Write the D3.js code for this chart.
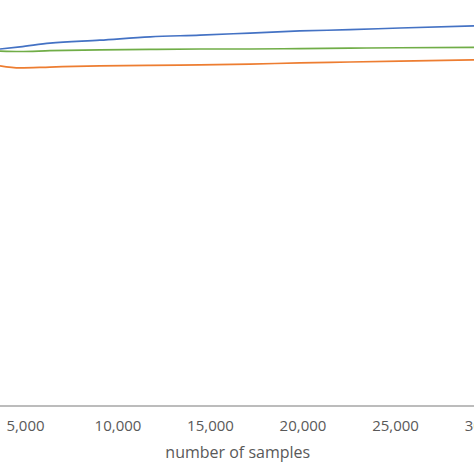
<!DOCTYPE html><html><head><script src="https://cdn.jsdelivr.net/npm/d3@7"></script>
<style>body{margin:0;background:#fff}</style></head><body><svg id="c" width="474" height="474"></svg><script>
const samples=[3650,4730,6350,9050,11760,14460,17160,19860,22570,25270,29270];
const blue=[0.850,0.855,0.864,0.871,0.879,0.883,0.888,0.893,0.896,0.900,0.905];
const green=[0.845,0.844,0.846,0.848,0.849,0.850,0.850,0.851,0.852,0.853,0.854];
const orange=[0.810,0.805,0.807,0.810,0.811,0.812,0.814,0.817,0.819,0.821,0.824];
const ticks=[5000,10000,15000,20000,25000,30000];
const svg=d3.select("#c");
const x=d3.scaleLinear().domain([3650,29270]).range([0,474]);
const y=d3.scaleLinear().domain([0,1]).range([406,-14]);
const line=d3.line().x((d,i)=>x(samples[i])).y(d=>y(d)).curve(d3.curveMonotoneX);
[[blue,"#4472c4"],[green,"#70ad47"],[orange,"#ed7d31"]].forEach(([s,c])=>svg.append("path").datum(s).attr("d",line).attr("fill","none").attr("stroke",c).attr("stroke-width",1.7));
const ax=svg.append("g").attr("transform","translate(0,406)").call(d3.axisBottom(x).tickValues(ticks).tickSize(0).tickPadding(14).tickFormat(d3.format(",")));
ax.select(".domain").attr("stroke","#a6a6a6").attr("stroke-width",1.5).attr("d","M0,0H474");
ax.selectAll("text").attr("font-family","Open Sans").attr("font-size",15).attr("fill","#595959");
svg.append("text").attr("x",x(16500)).attr("y",458).attr("text-anchor","middle").attr("font-family","Open Sans").attr("font-size",16).attr("fill","#595959").text("number of samples");
</script></body></html>
